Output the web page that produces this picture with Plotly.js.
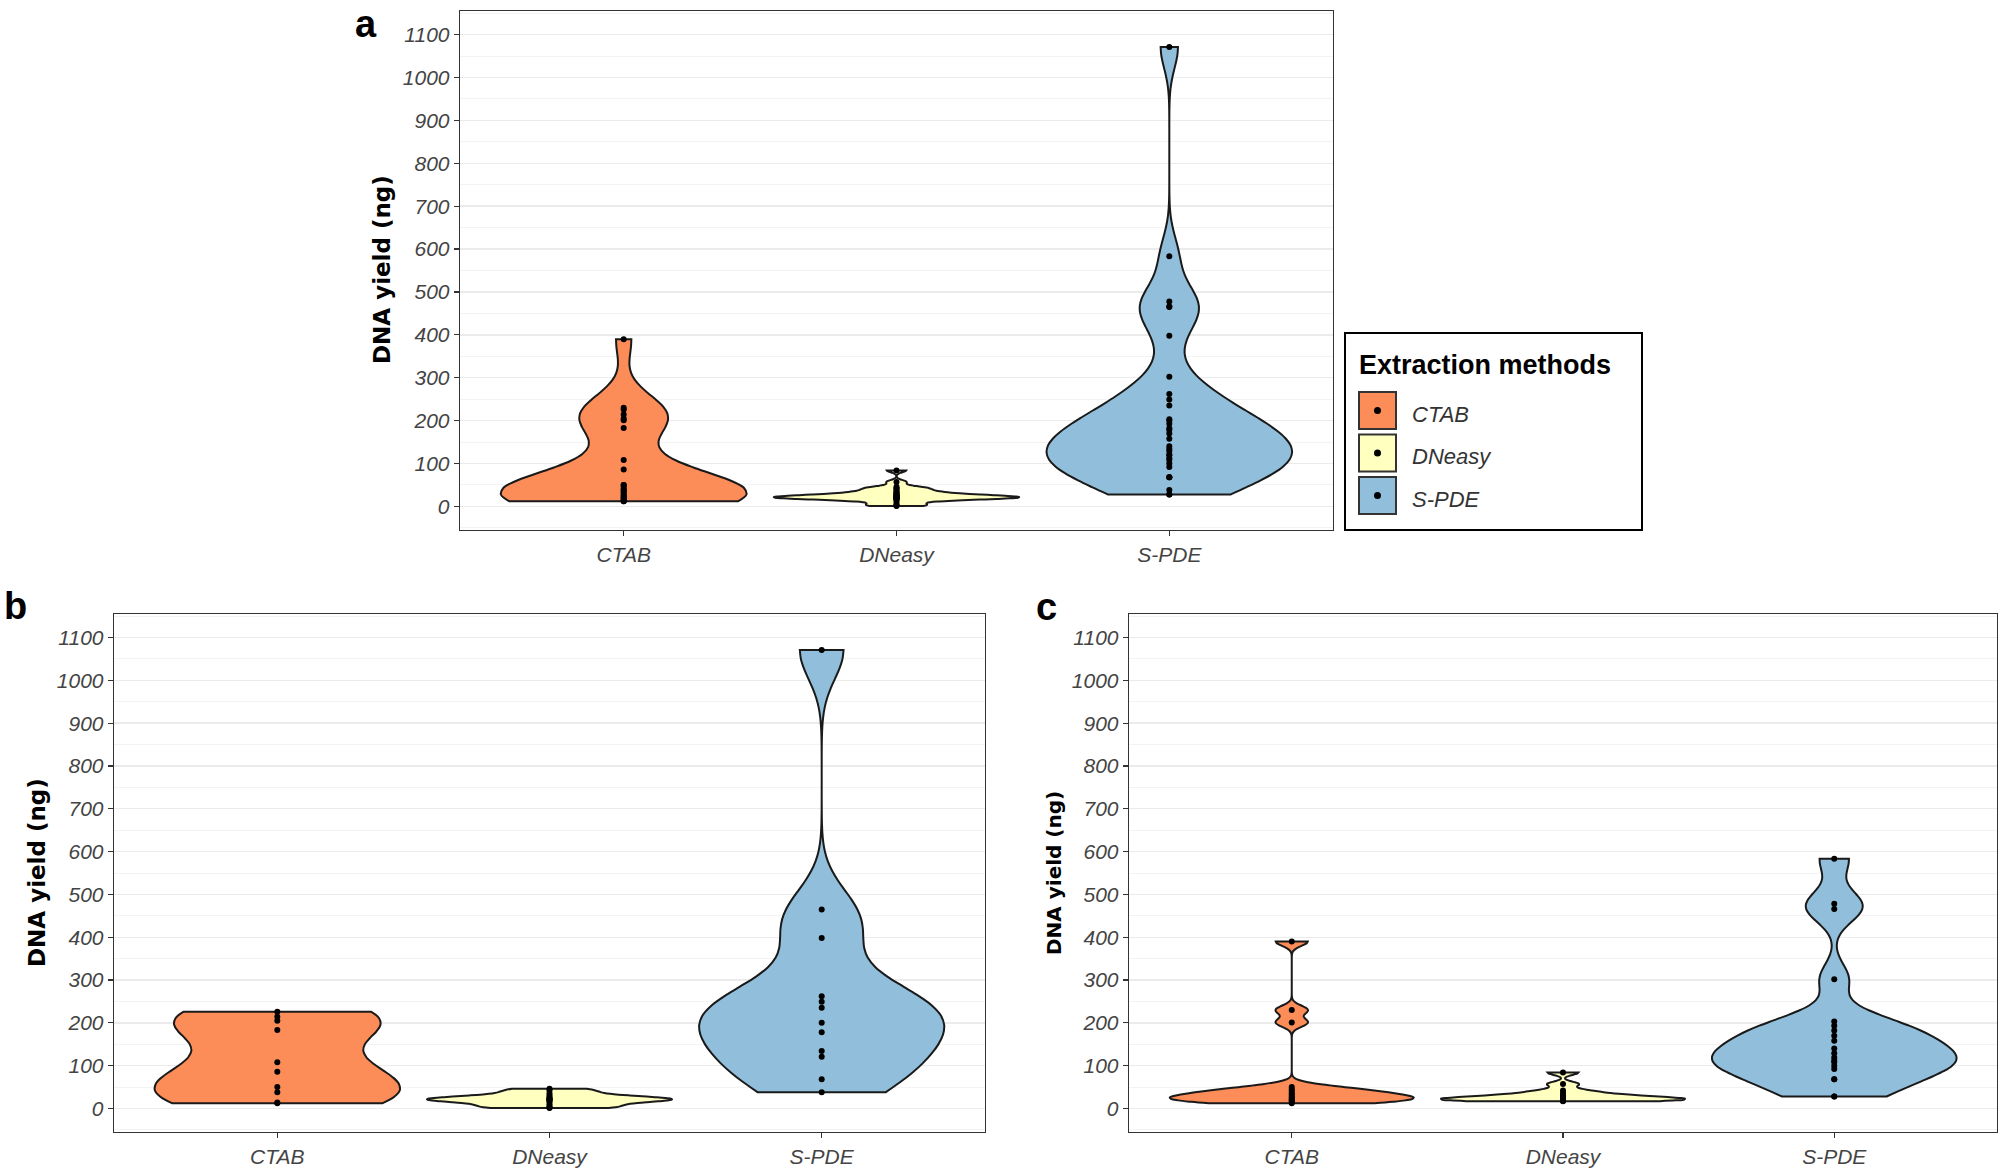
<!DOCTYPE html>
<html>
<head>
<meta charset="utf-8">
<script src="https://cdn.plot.ly/plotly-3.0.1.min.js"></script>
<style>
  html, body { margin: 0; padding: 0; background: #fff; }
  #plot { width: 2008px; height: 1170px; }
</style>
</head>
<body>
<div id="plot"></div>
<script>
const methods = ['CTAB', 'DNeasy', 'S-PDE'];
const fills = ['#FC8D59', '#FFFFBF', '#91BFDB'];

// panel b samples (ng)
const ctabB = [226, 214, 205, 183, 108, 86, 50, 38, 14, 12];
const dneasyB = [46, 42, 35, 30, 26, 24, 22, 21, 20, 18, 15, 10, 5, 2, 1];
const spdeB = [1071, 465, 398, 262, 249, 235, 200, 178, 134, 121, 68, 38];

// panel c samples (ng)
const ctabC = [390, 230, 201, 50, 45, 40, 35, 32, 28, 25, 22, 20, 18, 15, 12];
const dneasyC = [84, 57, 42, 36, 31, 28, 26, 24, 22, 21, 20, 19, 18, 17];
const spdeC = [583, 478, 466, 302, 203, 193, 182, 170, 158, 140, 129, 119, 112, 108, 100, 92, 68, 68, 28, 28];

// panel a pools both sets
const ctabA = ctabB.concat(ctabC);
const dneasyA = dneasyB.concat(dneasyC);
const spdeA = spdeB.concat(spdeC);

const yTicks = [0, 100, 200, 300, 400, 500, 600, 700, 800, 900, 1000, 1100];

const W = 2008;
const H = 1170;
const px = (x) => x / W;
const py = (y) => 1 - y / H;

// same rule of thumb ggplot uses (bw.nrd0)
function quantile(sorted, p) {
  const h = (sorted.length - 1) * p;
  const lo = Math.floor(h);
  const hi = Math.min(lo + 1, sorted.length - 1);
  return sorted[lo] + (h - lo) * (sorted[hi] - sorted[lo]);
}

function nrd0(values) {
  const v = values.slice().sort((a, b) => a - b);
  const n = v.length;
  const mean = v.reduce((s, x) => s + x, 0) / n;
  const sd = Math.sqrt(v.reduce((s, x) => s + (x - mean) ** 2, 0) / (n - 1));
  const iqr = quantile(v, 0.75) - quantile(v, 0.25);
  let lo = Math.min(sd, iqr / 1.34);
  if (!lo) lo = sd || Math.abs(v[0]) || 1;
  return 0.9 * lo * Math.pow(n, -0.2);
}

function violin(values, i, n) {
  const suffix = n === 1 ? '' : String(n);
  return {
    type: 'violin',
    y: values,
    x0: methods[i],
    name: methods[i],
    xaxis: 'x' + suffix,
    yaxis: 'y' + suffix,
    fillcolor: fills[i],
    opacity: 1,
    line: { color: '#1a1a1a', width: 2 },
    spanmode: 'hard',
    bandwidth: nrd0(values),
    scalemode: 'width',
    width: 0.9,
    points: 'all',
    pointpos: 0,
    jitter: 0,
    marker: { color: '#000', size: 6 },
    box: { visible: false },
    meanline: { visible: false },
    hoveron: 'points',
    showlegend: false,
  };
}

const data = [
  violin(ctabA, 0, 1), violin(dneasyA, 1, 1), violin(spdeA, 2, 1),
  violin(ctabB, 0, 2), violin(dneasyB, 1, 2), violin(spdeB, 2, 2),
  violin(ctabC, 0, 3), violin(dneasyC, 1, 3), violin(spdeC, 2, 3),
];

const tickFont = { family: 'Liberation Sans, Arial, sans-serif', size: 21, color: '#444', style: 'italic' };

function xAxis(x0, x1, anchor) {
  return {
    domain: [px(x0), px(x1)],
    anchor,
    type: 'category',
    categoryorder: 'array',
    categoryarray: methods,
    range: [-0.6, 2.6],
    showgrid: false,
    zeroline: false,
    showline: true,
    mirror: true,
    linecolor: '#333',
    linewidth: 1.3,
    ticks: 'outside',
    ticklen: 5,
    tickwidth: 1.2,
    tickcolor: '#333',
    tickfont: tickFont,
    fixedrange: true,
  };
}

function yAxis(y0, y1, anchor) {
  return {
    domain: [py(y1), py(y0)],
    anchor,
    range: [-55, 1155],
    tickmode: 'array',
    tickvals: yTicks,
    showgrid: true,
    gridcolor: '#EBEBEB',
    gridwidth: 1.4,
    minor: { dtick: 50, tick0: 0, showgrid: true, gridcolor: '#F2F2F2', gridwidth: 0.9 },
    zeroline: false,
    showline: true,
    mirror: true,
    linecolor: '#333',
    linewidth: 1.3,
    ticks: 'outside',
    ticklen: 5,
    tickwidth: 1.2,
    tickcolor: '#333',
    tickfont: tickFont,
    fixedrange: true,
  };
}

const titleFont = { family: 'DejaVu Sans, sans-serif', size: 23, color: '#000', weight: 'bold' };
const letterFont = { family: 'Liberation Sans, Arial, sans-serif', size: 38, color: '#000', weight: 'bold' };
const legendFont = { family: 'Liberation Sans, Arial, sans-serif', size: 22, color: '#333', style: 'italic' };

const annotations = [
  { text: 'a', x: px(366), y: py(24), font: letterFont },
  { text: 'b', x: px(15), y: py(606), font: letterFont },
  { text: 'c', x: px(1046), y: py(607), font: letterFont },
  { text: 'DNA yield (ng)', x: px(382), y: py(270), textangle: -90, font: titleFont },
  { text: 'DNA yield (ng)', x: px(37), y: py(873), textangle: -90, font: titleFont },
  { text: 'DNA yield (ng)', x: px(1054), y: py(873), textangle: -90, font: { ...titleFont, size: 20 } },
  {
    text: 'Extraction methods', x: px(1357), y: py(365), xanchor: 'left',
    font: { family: 'Liberation Sans, Arial, sans-serif', size: 27, color: '#000', weight: 'bold' },
  },
].map((a) => ({ xref: 'paper', yref: 'paper', showarrow: false, xanchor: 'center', yanchor: 'middle', ...a }));

// legend box drawn by hand so the keys can be large squares with a dot
const shapes = [
  {
    type: 'rect', xref: 'paper', yref: 'paper',
    x0: px(1345), x1: px(1642), y0: py(530), y1: py(333),
    line: { color: '#000', width: 2 }, fillcolor: '#fff',
  },
];
const keyTops = [392, 434.5, 477];
methods.forEach((m, i) => {
  const top = keyTops[i];
  const cy = top + 18.5;
  shapes.push({
    type: 'rect', xref: 'paper', yref: 'paper',
    x0: px(1359), x1: px(1396), y0: py(top + 37), y1: py(top),
    line: { color: '#333', width: 2 }, fillcolor: fills[i],
  });
  shapes.push({
    type: 'circle', xref: 'paper', yref: 'paper',
    x0: px(1374), x1: px(1381), y0: py(cy + 3.5), y1: py(cy - 3.5),
    line: { color: '#000', width: 0 }, fillcolor: '#000',
  });
  annotations.push({
    xref: 'paper', yref: 'paper', showarrow: false,
    text: m, x: px(1410), y: py(cy + 4), xanchor: 'left', yanchor: 'middle',
    font: legendFont,
  });
});

const layout = {
  width: W,
  height: H,
  margin: { l: 0, r: 0, t: 0, b: 0 },
  paper_bgcolor: '#fff',
  plot_bgcolor: '#fff',
  violinmode: 'overlay',
  showlegend: false,
  font: { family: 'Liberation Sans, Arial, sans-serif' },
  xaxis: xAxis(460, 1333, 'y'),
  yaxis: yAxis(11, 530, 'x'),
  xaxis2: xAxis(114, 985, 'y2'),
  yaxis2: yAxis(614, 1132, 'x2'),
  xaxis3: xAxis(1129, 1997, 'y3'),
  yaxis3: yAxis(614, 1132, 'x3'),
  annotations,
  shapes,
};

Plotly.newPlot('plot', data, layout, { displayModeBar: false, staticPlot: true });
</script>
</body>
</html>
